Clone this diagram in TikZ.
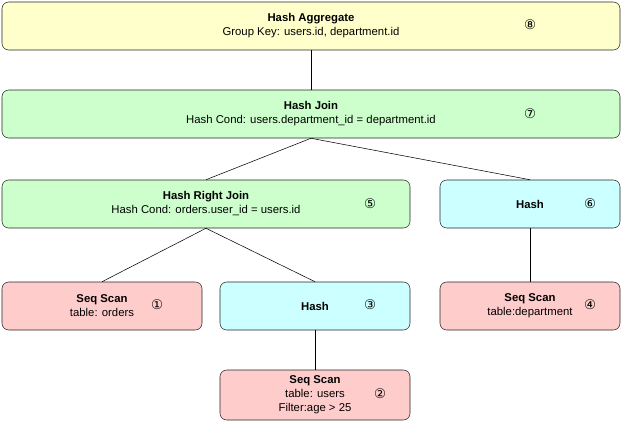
\documentclass[tikz,border=0pt]{standalone}
\usepackage{fontspec}
\setmainfont{Liberation Sans}
\newfontfamily\circfont{DejaVu Sans}
\usetikzlibrary{positioning}
\definecolor{aggfill}{HTML}{FFFFCC}
\definecolor{joinfill}{HTML}{CCFFCC}
\definecolor{hashfill}{HTML}{CCFFFF}
\definecolor{scanfill}{HTML}{FFCCCC}
\begin{document}
\begin{tikzpicture}[x=0.75pt,y=-0.75pt,font=\fontsize{8.5}{10.5}\selectfont]
        \tikzstyle{op}=[rectangle,rounded corners=5pt,draw=black!85,align=center,inner sep=0pt]
        \tikzstyle{num}=[font=\circfont\fontsize{10}{12}\selectfont]
        \useasboundingbox (0,0) rectangle (622,422);

        \node [op,fill=aggfill,minimum width=618*0.75pt,minimum height=48*0.75pt] (agg) at (311,26) {\textbf{Hash Aggregate}\\Group Key: users.id, department.id}; %root
        \node [num] at (530,25) {⑧};
        \node [op,fill=joinfill,minimum width=618*0.75pt,minimum height=48*0.75pt] (join) at (311,114) {\textbf{Hash Join}\\Hash Cond: users.department\_id = department.id};
        \node [num] at (530,114) {⑦};
        \node [op,fill=joinfill,minimum width=408*0.75pt,minimum height=48*0.75pt] (rjoin) at (206,204) {\textbf{Hash Right Join}\\Hash Cond: orders.user\_id = users.id};
        \node [num] at (370,204) {⑤};
        \node [op,fill=hashfill,minimum width=180*0.75pt,minimum height=48*0.75pt] (hashd) at (530,204) {\textbf{Hash}};
        \node [num] at (590,204) {⑥};
        \node [op,fill=scanfill,minimum width=200*0.75pt,minimum height=48*0.75pt] (orders) at (102,306) {\textbf{Seq Scan}\\table: orders};
        \node [num] at (157,305) {①};
        \node [op,fill=hashfill,minimum width=190*0.75pt,minimum height=48*0.75pt] (hashu) at (315,306) {\textbf{Hash}};
        \node [num] at (370,305) {③};
        \node [op,fill=scanfill,minimum width=180*0.75pt,minimum height=48*0.75pt] (dept) at (530,306) {\textbf{Seq Scan}\\table:department};
        \node [num] at (590,305) {④};
        \node [op,fill=scanfill,minimum width=190*0.75pt,minimum height=50*0.75pt] (users) at (315,395) {\textbf{Seq Scan}\\table: users\\Filter:age > 25};
        \node [num] at (380,394) {②};

        \draw (agg) -- (join);
        \draw (join.south) -- (rjoin.north);
        \draw (join.south) -- (hashd.north);
        \draw (rjoin.south) -- (orders.north);
        \draw (rjoin.south) -- (hashu.north);
        \draw (hashu) -- (users);
        \draw (hashd) -- (dept);
\end{tikzpicture}
\end{document}
